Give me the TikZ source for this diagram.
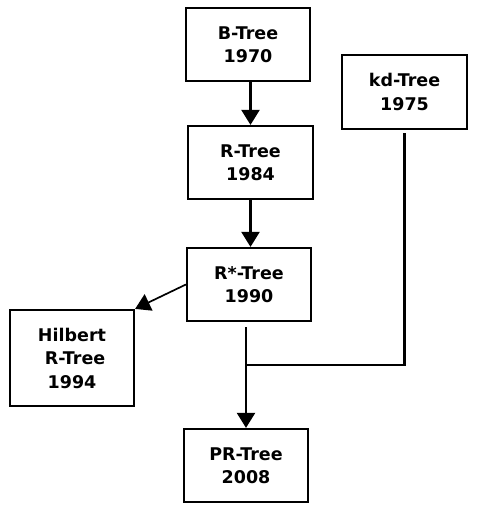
\documentclass[tikz,border=0pt]{standalone}
\usepackage{fontspec}
\setmainfont{DejaVu Sans}
\usetikzlibrary{arrows.meta}
\begin{document}
\begin{tikzpicture}[x=1pt,y=-1pt,
  box/.style={draw=black,line width=2.2pt,inner sep=0pt,align=center,
    font=\bfseries\fontsize{17.5}{23.5}\selectfont},
  conn/.style={line width=2.2pt},
  arr/.style={conn,-{Triangle[length=15pt,width=18pt]}}]
\useasboundingbox (0,0) rectangle (478,512);
\node[box,minimum width=124pt,minimum height=73pt] (B) at (248,44.5) {B-Tree\\1970};
\node[box,minimum width=125pt,minimum height=73pt] (R) at (250.5,162.5) {R-Tree\\1984};
\node[box,minimum width=125pt,minimum height=74pt] (kd) at (404.5,92) {kd-Tree\\1975};
\node[box,minimum width=124pt,minimum height=73pt] (Rs) at (249,284.5) {R*-Tree\\1990};
\node[box,minimum width=124pt,minimum height=96pt] (H) at (72,358) {Hilbert\\\hspace*{0.35em}R-Tree\\1994};
\node[box,minimum width=124pt,minimum height=73pt] (PR) at (246,465.5) {PR-Tree\\2008};
\coordinate (j) at (246,365);
\draw[arr] (B.south -| R.north) -- (R.north);
\draw[arr] (R.south) -- (R.south |- Rs.north);
\draw[arr,line width=1.7pt] (Rs.west) -- (H.north east);
\draw[arr,shorten <=5pt] (Rs.south -| PR.north) -- (PR.north);
\draw[conn,shorten <=3pt] (kd.south) |- (j);
\end{tikzpicture}
\end{document}
